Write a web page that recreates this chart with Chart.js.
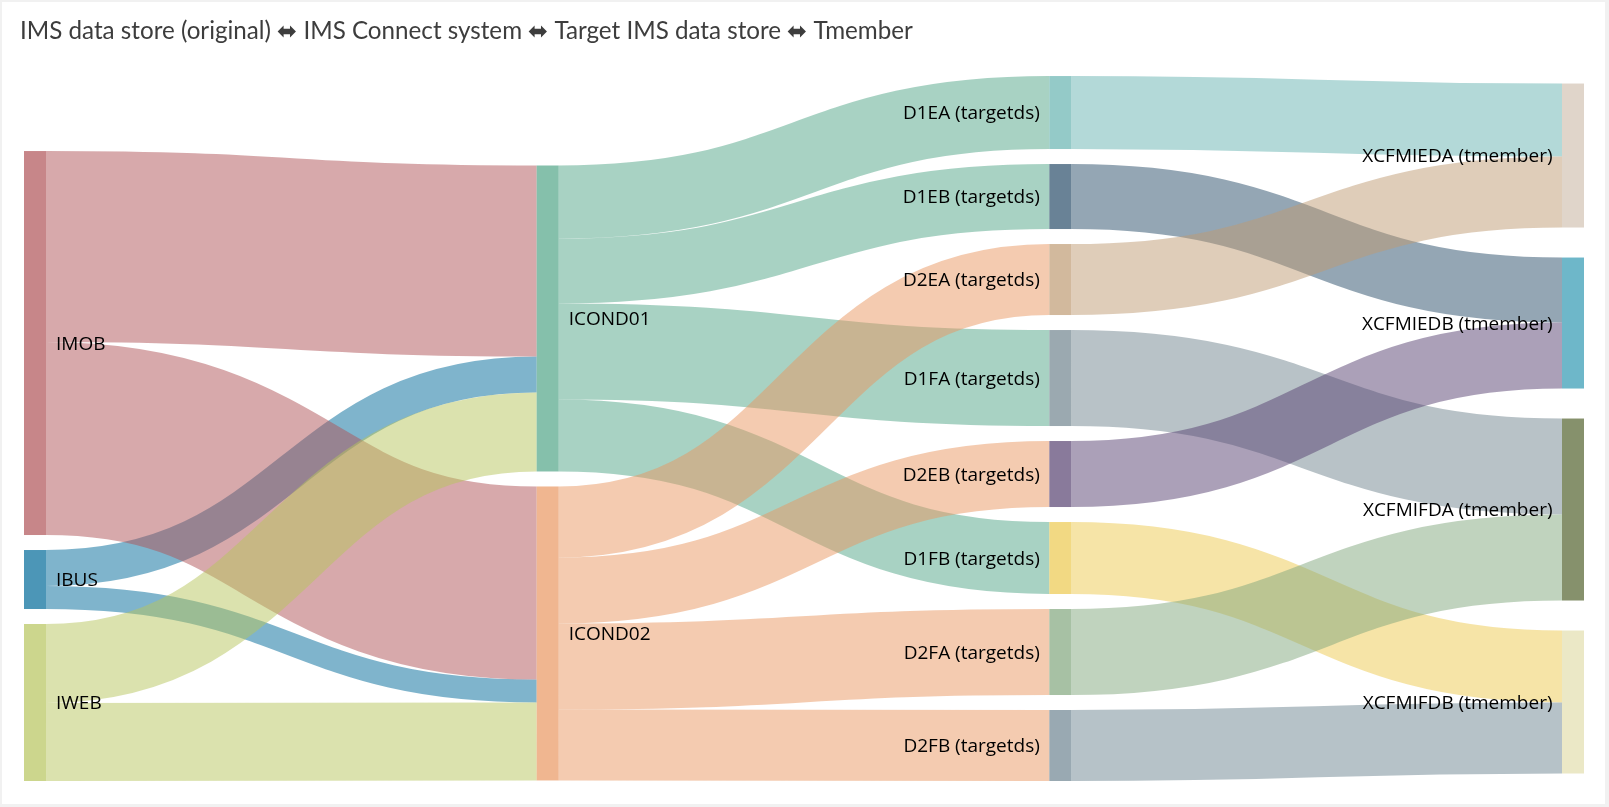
<!DOCTYPE html>
<html>
<head>
<meta charset="utf-8">
<script src="https://cdn.jsdelivr.net/npm/chart.js@4.4.1/dist/chart.umd.min.js"></script>
<style>
  html, body { margin: 0; padding: 0; background: #f1f1f1; }
  #wrap { position: absolute; left: 2px; top: 2px; width: 1603px; height: 802px; background: #fff; }
</style>
</head>
<body>
<div id="wrap"><canvas id="flow"></canvas></div>
<script>
// nodes, in display order within each column
const nodeNames = ['IMOB', 'IBUS', 'IWEB', 'ICOND01', 'ICOND02',
  'D1EA', 'D1EB', 'D2EA', 'D1FA', 'D2EB', 'D1FB', 'D2FA', 'D2FB',
  'XCFMIEDA', 'XCFMIEDB', 'XCFMIFDA', 'XCFMIFDB'];
const nodeLabels = ['IMOB', 'IBUS', 'IWEB', 'ICOND01', 'ICOND02',
  'D1EA (targetds)', 'D1EB (targetds)', 'D2EA (targetds)', 'D1FA (targetds)',
  'D2EB (targetds)', 'D1FB (targetds)', 'D2FA (targetds)', 'D2FB (targetds)',
  'XCFMIEDA (tmember)', 'XCFMIEDB (tmember)', 'XCFMIFDA (tmember)', 'XCFMIFDB (tmember)'];
const nodeColors = ['#af5357', '#006999', '#b7c55d', '#51a587', '#e99761',
  '#67b3b1', '#294d69', '#bf9b73', '#71858f', '#574171', '#edc94f', '#81a77d', '#6d8591',
  '#d3c3b3', '#3198b2', '#52632d', '#e2deae'];

// links (drawn in this order)
const linkSources = ['IBUS', 'IBUS', 'IMOB', 'IMOB', 'IWEB', 'IWEB',
  'ICOND01', 'ICOND01', 'ICOND01', 'ICOND01', 'ICOND02', 'ICOND02', 'ICOND02', 'ICOND02',
  'D1EA', 'D1EB', 'D1FA', 'D1FB', 'D2EA', 'D2EB', 'D2FA', 'D2FB'];
const linkTargets = ['ICOND01', 'ICOND02', 'ICOND01', 'ICOND02', 'ICOND01', 'ICOND02',
  'D1EA', 'D1EB', 'D1FA', 'D1FB', 'D2EA', 'D2EB', 'D2FA', 'D2FB',
  'XCFMIEDA', 'XCFMIEDB', 'XCFMIFDA', 'XCFMIFDB', 'XCFMIEDA', 'XCFMIEDB', 'XCFMIFDA', 'XCFMIFDB'];
const linkValues = [36, 23, 191, 193, 79, 78,
  73, 65, 96, 72, 71, 66, 86, 71,
  73, 65, 96, 72, 71, 66, 86, 71];

const Y_MAX = 705;      // y axis extent, value units
const NODE_PAD = 15;    // gap between nodes, value units
const NODE_WIDTH = 22;  // px

// sankey layout in value units of the y axis:
// spread every column, then one right-to-left pass lining nodes up with their outgoing links
function buildLayout() {
  const nodes = nodeNames.map((name, i) => ({ name, index: i, sourceLinks: [], targetLinks: [] }));
  const links = linkValues.map((value, i) => {
    const link = {
      index: i, value,
      source: nodes[nodeNames.indexOf(linkSources[i])],
      target: nodes[nodeNames.indexOf(linkTargets[i])]
    };
    link.source.sourceLinks.push(link);
    link.target.targetLinks.push(link);
    return link;
  });
  const sum = (arr, f) => arr.reduce((s, d) => s + f(d), 0);
  for (const n of nodes) {
    n.value = Math.max(sum(n.sourceLinks, l => l.value), sum(n.targetLinks, l => l.value));
  }
  let current = nodes, depth = 0;
  while (current.length) {
    const next = [];
    for (const n of current) {
      n.depth = depth;
      for (const l of n.sourceLinks) if (next.indexOf(l.target) < 0) next.push(l.target);
    }
    depth++;
    current = next;
  }
  const nCols = Math.max(...nodes.map(n => n.depth)) + 1;
  const columns = Array.from({ length: nCols }, () => []);
  for (const n of nodes) {
    n.layer = n.sourceLinks.length ? n.depth : nCols - 1;
    columns[n.layer].push(n);
  }

  const y0 = 0, y1 = Y_MAX, py = NODE_PAD;
  const ky = Math.min(...columns.map(c => (y1 - y0 - (c.length - 1) * py) / sum(c, n => n.value)));
  for (const l of links) l.width = l.value * ky;

  // initial spread: free space shared around every node
  for (const col of columns) {
    const used = sum(col, n => n.value * ky) + (col.length - 1) * py;
    const margin = (y1 - y0 - used) / (2 * col.length);
    let y = y0 + margin;
    for (const n of col) {
      n.y0 = y;
      n.y1 = y + n.value * ky;
      y = n.y1 + py + 2 * margin;
    }
  }

  const sortLinks = () => {
    for (const n of nodes) {
      n.sourceLinks.sort((a, b) => a.target.y0 - b.target.y0 || a.index - b.index);
      n.targetLinks.sort((a, b) => a.source.y0 - b.source.y0 || a.index - b.index);
    }
  };
  const sourceTop = (s, t) => {
    let y = t.y0 - (t.targetLinks.length - 1) * py / 2;
    for (const l of t.targetLinks) { if (l.source === s) break; y += l.width + py; }
    for (const l of s.sourceLinks) { if (l.target === t) break; y -= l.width; }
    return y;
  };
  const resolveCollisions = col => {
    let y = y0;
    for (const n of col) {
      const d = y - n.y0;
      if (d > 0) { n.y0 += d; n.y1 += d; }
      y = n.y1 + py;
    }
    if (y - py > y1) {
      let bottom = y1;
      for (let i = col.length - 1; i >= 0; --i) {
        const n = col[i];
        const d = n.y1 - bottom;
        if (d > 0) { n.y0 -= d; n.y1 -= d; }
        bottom = n.y0 - py;
      }
    }
  };

  sortLinks();
  for (let i = nCols - 2; i >= 0; --i) {
    const col = columns[i];
    for (const s of col) {
      let y = 0, w = 0;
      for (const l of s.sourceLinks) {
        y += sourceTop(s, l.target) * l.value;
        w += l.value;
      }
      if (w > 0) {
        const d = y / w - s.y0;
        s.y0 += d; s.y1 += d;
      }
    }
    resolveCollisions(col);
    sortLinks();
  }

  for (const n of nodes) {
    let a = n.y0, b = n.y0;
    for (const l of n.sourceLinks) { l.y0 = a + l.width / 2; a += l.width; }
    for (const l of n.targetLinks) { l.y1 = b + l.width / 2; b += l.width; }
  }
  return { nodes, links, nCols };
}

const graph = buildLayout();

function rgba(hex, a) {
  const v = parseInt(hex.slice(1), 16);
  return `rgba(${(v >> 16) & 255}, ${(v >> 8) & 255}, ${v & 255}, ${a})`;
}

const sankeyPlugin = {
  id: 'sankeyFlows',
  afterDatasetsDraw(chart) {
    const { ctx, scales: { x, y } } = chart;
    const unit = Math.abs(y.getPixelForValue(1) - y.getPixelForValue(0));
    ctx.save();

    // links, coloured by source node
    for (const l of graph.links) {
      const sx = x.getPixelForValue(l.source.layer) + NODE_WIDTH;
      const tx = x.getPixelForValue(l.target.layer);
      const sy = y.getPixelForValue(l.y0);
      const ty = y.getPixelForValue(l.y1);
      const mx = (sx + tx) / 2;
      ctx.beginPath();
      ctx.moveTo(sx, sy);
      ctx.bezierCurveTo(mx, sy, mx, ty, tx, ty);
      ctx.strokeStyle = rgba(nodeColors[l.source.index], 0.5);
      ctx.lineWidth = Math.max(1, l.width * unit);
      ctx.stroke();
    }

    // nodes
    for (const n of graph.nodes) {
      const left = x.getPixelForValue(n.layer);
      const top = y.getPixelForValue(n.y0);
      const bottom = y.getPixelForValue(n.y1);
      ctx.fillStyle = rgba(nodeColors[n.index], 0.7);
      ctx.fillRect(left, top, NODE_WIDTH, bottom - top);
    }

    // labels
    ctx.font = '19px "Open Sans", sans-serif';
    ctx.fillStyle = '#000';
    ctx.textBaseline = 'middle';
    for (const n of graph.nodes) {
      const left = x.getPixelForValue(n.layer);
      const mid = y.getPixelForValue((n.y0 + n.y1) / 2) + 1.5;
      if (n.layer < graph.nCols / 2) {
        ctx.textAlign = 'left';
        ctx.fillText(nodeLabels[n.index], left + NODE_WIDTH + 10, mid);
      } else {
        ctx.textAlign = 'right';
        ctx.fillText(nodeLabels[n.index], left - 9.5, mid);
      }
    }
    ctx.restore();
  }
};

new Chart(document.getElementById('flow'), {
  type: 'scatter',
  data: { datasets: [{ data: [] }] },
  options: {
    responsive: true,
    maintainAspectRatio: false,
    animation: false,
    layout: { padding: { left: 18, right: 43, top: 0, bottom: 23 } },
    plugins: {
      legend: { display: false },
      tooltip: { enabled: false },
      title: {
        display: true,
        text: 'IMS data store (original) \u2B0C IMS Connect system \u2B0C Target IMS data store \u2B0C Tmember',
        align: 'start',
        color: '#3d3d3d',
        font: { family: 'Lato', size: 24.2, weight: 'normal' },
        padding: { top: 15, bottom: 30 }
      }
    },
    scales: {
      x: { type: 'linear', min: -0.0078, max: graph.nCols - 1, display: false },
      y: { type: 'linear', min: 0, max: Y_MAX, reverse: true, display: false }
    }
  },
  plugins: [sankeyPlugin]
});
</script>
</body>
</html>
